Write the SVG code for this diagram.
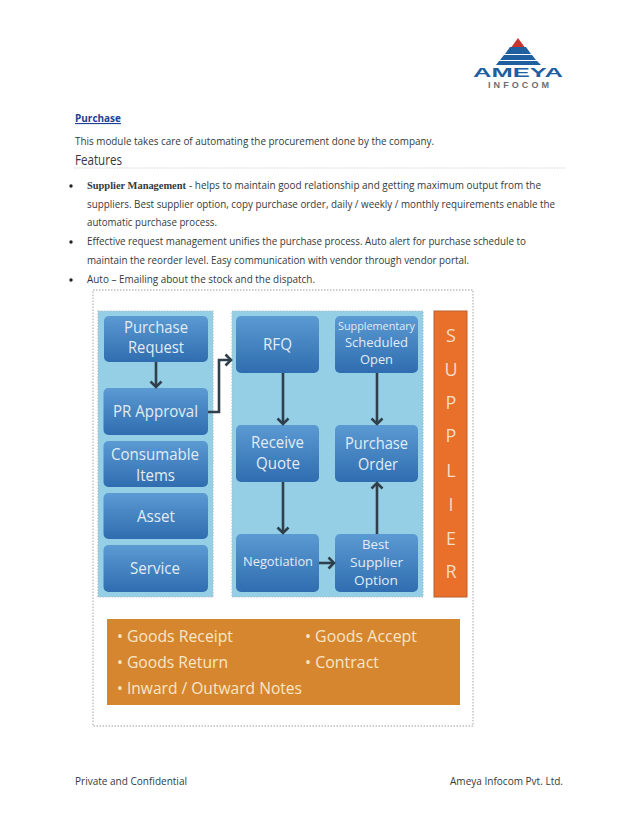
<svg xmlns="http://www.w3.org/2000/svg" width="638" height="826" viewBox="0 0 638 826">
<style>
.b{font-family:"Open Sans","Noto Sans",sans-serif;font-size:11px;fill:#333a40}
.n{font-family:"Open Sans","Noto Sans",sans-serif;font-size:16px;font-weight:500;fill:#e2ecf4;text-anchor:start}
.o{font-family:"Open Sans","Noto Sans",sans-serif;font-size:17px;font-weight:500;fill:#f8e6c8}
.s{font-family:"Open Sans","Noto Sans",sans-serif;font-size:18px;font-weight:500;fill:#f6dcc4;text-anchor:middle}
.box{fill:url(#g);stroke:none}
.panel{fill:#95cfe6;stroke:#aebfc6;stroke-width:1.2;stroke-dasharray:1.5 1.5}
.c{fill:none;stroke:#2f3f4c;stroke-width:2.6}
.h{fill:none;stroke:#2f3f4c;stroke-width:2.6}
</style>
<defs>
<linearGradient id="g" x1="0" y1="0" x2="0" y2="1"><stop offset="0" stop-color="#5b9ad2"/><stop offset="1" stop-color="#2f6db0"/></linearGradient>
<marker id="a" markerUnits="userSpaceOnUse" markerWidth="14" markerHeight="14" refX="11" refY="7" orient="auto"><path d="M5.500 1.500 L11 7 L5.500 12.500" class="h"/></marker>
</defs>
<rect width="638" height="826" fill="#ffffff"/>
<g id="logo">
<polygon points="518,38 510,49 526,49" fill="#c8352f"/>
<polygon points="510,47 526,47 531,54 505,54" fill="#1f5f9f"/>
<polygon points="504,55 532,55 536,60 500,60" fill="#1f5f9f"/>
<polygon points="499,61 537,61 541,65 496,65" fill="#1f5f9f"/>
<text x="473" y="77" font-family="Liberation Sans,sans-serif" font-weight="bold" font-size="13" fill="#1f5f9f" textLength="90" lengthAdjust="spacingAndGlyphs">AMEYA</text>
<text x="488" y="88" font-family="Liberation Sans,sans-serif" font-weight="bold" font-size="9" fill="#6a6e72" textLength="61">INFOCOM</text>
</g>
<g id="page-text">
<text x="75" y="122" font-family="Open Sans,sans-serif" font-weight="bold" font-size="11" fill="#1d3f94" text-decoration="underline" textLength="46" lengthAdjust="spacingAndGlyphs">Purchase</text>
<text class="b" x="75" y="145" textLength="359" lengthAdjust="spacingAndGlyphs">This module takes care of automating the procurement done by the company.</text>
<text x="75" y="165" font-family="Open Sans,sans-serif" font-size="14" fill="#333a40" textLength="47" lengthAdjust="spacingAndGlyphs">Features</text>
<line x1="74" y1="168" x2="565" y2="168" stroke="#d4d6d6" stroke-width="1" stroke-dasharray="1.5 1"/>
<circle cx="71" cy="186" r="1.7" fill="#222"/><circle cx="71" cy="242" r="1.7" fill="#222"/><circle cx="71" cy="280" r="1.7" fill="#222"/>
<text x="87" y="189" font-family="Liberation Serif,serif" font-weight="bold" font-size="11" fill="#333a40" textLength="99" lengthAdjust="spacingAndGlyphs">Supplier Management</text>
<text class="b" x="189" y="189" textLength="352" lengthAdjust="spacingAndGlyphs">- helps to maintain good relationship and getting maximum output from the</text>
<text class="b" x="87" y="208" textLength="468" lengthAdjust="spacingAndGlyphs">suppliers. Best supplier option, copy purchase order, daily / weekly / monthly requirements enable the</text>
<text class="b" x="87" y="226" textLength="130" lengthAdjust="spacingAndGlyphs">automatic purchase process.</text>
<text class="b" x="87" y="245" textLength="439" lengthAdjust="spacingAndGlyphs">Effective request management unifies the purchase process. Auto alert for purchase schedule to</text>
<text class="b" x="87" y="264" textLength="382" lengthAdjust="spacingAndGlyphs">maintain the reorder level. Easy communication with vendor through vendor portal.</text>
<text class="b" x="87" y="283" textLength="228" lengthAdjust="spacingAndGlyphs">Auto – Emailing about the stock and the dispatch.</text>
<text class="b" x="75" y="785" textLength="112" lengthAdjust="spacingAndGlyphs">Private and Confidential</text>
<text class="b" x="450" y="785" textLength="113" lengthAdjust="spacingAndGlyphs">Ameya Infocom Pvt. Ltd.</text>
</g>
<g id="frame"><rect x="93" y="290" width="380" height="436" fill="#fff" stroke="#bdbfbf" stroke-width="1.4" stroke-dasharray="1.5 1.5"/></g>
<g id="panel-left"><rect class="panel" x="98" y="311" width="115" height="286"/></g>
<g id="panel-middle"><rect class="panel" x="232" y="311" width="191" height="286"/></g>
<g id="supplier">
<rect x="434" y="311" width="33" height="286" fill="#e8702a" stroke="#b9602e"/>
<text class="s" x="451" y="342">S</text><text class="s" x="451" y="376">U</text><text class="s" x="451" y="409">P</text><text class="s" x="451" y="442">P</text><text class="s" x="451" y="477">L</text><text class="s" x="451" y="511">I</text><text class="s" x="451" y="545">E</text><text class="s" x="451" y="578">R</text>
</g>
<g id="purchase-request"><rect class="box" x="104" y="316" width="104" height="46" rx="5"/><text class="n" x="124" y="333" textLength="64" lengthAdjust="spacingAndGlyphs">Purchase</text><text class="n" x="128" y="353" textLength="56" lengthAdjust="spacingAndGlyphs">Request</text></g>
<g id="pr-approval"><rect class="box" x="103.500" y="388" width="104.500" height="47" rx="5"/><text class="n" x="113" y="417" textLength="85" lengthAdjust="spacingAndGlyphs">PR Approval</text></g>
<g id="consumable-items"><rect class="box" x="103.500" y="441" width="104.500" height="46" rx="5"/><text class="n" x="111" y="460" textLength="88" lengthAdjust="spacingAndGlyphs">Consumable</text><text class="n" x="136" y="481" textLength="39" lengthAdjust="spacingAndGlyphs">Items</text></g>
<g id="asset"><rect class="box" x="103.500" y="493" width="104.500" height="46" rx="5"/><text class="n" x="137" y="522" textLength="38" lengthAdjust="spacingAndGlyphs">Asset</text></g>
<g id="service"><rect class="box" x="103.500" y="545" width="104.500" height="47" rx="5"/><text class="n" x="130" y="574" textLength="50" lengthAdjust="spacingAndGlyphs">Service</text></g>
<g id="rfq"><rect class="box" x="236" y="316" width="83" height="57" rx="5"/><text class="n" x="263" y="350" textLength="29" lengthAdjust="spacingAndGlyphs">RFQ</text></g>
<g id="receive-quote"><rect class="box" x="236" y="425" width="83" height="57" rx="5"/><text class="n" x="251" y="448" textLength="53" lengthAdjust="spacingAndGlyphs">Receive</text><text class="n" x="256" y="469" textLength="44" lengthAdjust="spacingAndGlyphs">Quote</text></g>
<g id="negotiation"><rect class="box" x="236" y="534" width="83" height="58" rx="5"/><text class="n" x="243" y="566" style="font-size:13px" textLength="70" lengthAdjust="spacingAndGlyphs">Negotiation</text></g>
<g id="supplementary"><rect class="box" x="335" y="316" width="83" height="57" rx="5"/><text class="n" x="338" y="330" style="font-size:10.500px" textLength="77" lengthAdjust="spacingAndGlyphs">Supplementary</text><text class="n" x="345" y="347" style="font-size:13px" textLength="63" lengthAdjust="spacingAndGlyphs">Scheduled</text><text class="n" x="360" y="364" style="font-size:13px" textLength="33" lengthAdjust="spacingAndGlyphs">Open</text></g>
<g id="purchase-order"><rect class="box" x="335" y="425" width="83" height="57" rx="5"/><text class="n" x="345" y="449" textLength="63" lengthAdjust="spacingAndGlyphs">Purchase</text><text class="n" x="358" y="470" textLength="40" lengthAdjust="spacingAndGlyphs">Order</text></g>
<g id="best-supplier"><rect class="box" x="335" y="534" width="83" height="58" rx="5"/><text class="n" x="362" y="549" style="font-size:13px" textLength="27" lengthAdjust="spacingAndGlyphs">Best</text><text class="n" x="350" y="567" style="font-size:13px" textLength="53" lengthAdjust="spacingAndGlyphs">Supplier</text><text class="n" x="354" y="585" style="font-size:13px" textLength="44" lengthAdjust="spacingAndGlyphs">Option</text></g>
<g id="connectors">
<path class="c" marker-end="url(#a)" d="M156 362V387"/>
<path class="c" marker-end="url(#a)" d="M208 412H219V360H231"/>
<path class="c" marker-end="url(#a)" d="M283 373V424"/>
<path class="c" marker-end="url(#a)" d="M283 482V533"/>
<path class="c" marker-end="url(#a)" d="M377 373V424"/>
<path class="c" marker-end="url(#a)" d="M377 534V483"/>
<path class="c" marker-end="url(#a)" d="M319 563H334"/>
</g>
<g id="documents">
<rect x="107" y="619" width="353" height="86" fill="#d6862e"/>
<text class="o" x="117" y="642" textLength="116" lengthAdjust="spacingAndGlyphs">• Goods Receipt</text>
<text class="o" x="117" y="668" textLength="111" lengthAdjust="spacingAndGlyphs">• Goods Return</text>
<text class="o" x="117" y="694" textLength="185" lengthAdjust="spacingAndGlyphs">• Inward / Outward Notes</text>
<text class="o" x="305" y="642" textLength="112" lengthAdjust="spacingAndGlyphs">• Goods Accept</text>
<text class="o" x="305" y="668" textLength="74" lengthAdjust="spacingAndGlyphs">• Contract</text>
</g>
</svg>
